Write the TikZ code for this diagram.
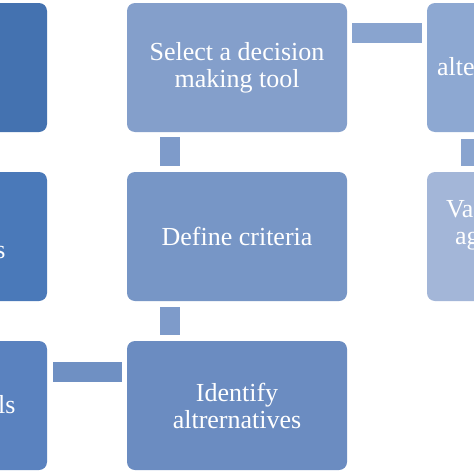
\documentclass[tikz,border=0pt]{standalone}
\usepackage{fontspec}
\setmainfont{Liberation Serif}
\definecolor{cLa}{HTML}{4472B0}
\definecolor{cLb}{HTML}{4A79B9}
\definecolor{cLc}{HTML}{5A82BF}
\definecolor{cMa}{HTML}{849FCB}
\definecolor{cMb}{HTML}{7796C6}
\definecolor{cMc}{HTML}{6B8CC1}
\definecolor{cRa}{HTML}{8DA8D2}
\definecolor{cRb}{HTML}{A3B6D8}
\definecolor{cCa}{HTML}{89A4CF}
\definecolor{cCb}{HTML}{7E9BCA}
\definecolor{cCc}{HTML}{6F90C3}
\begin{document}
\begin{tikzpicture}[x=1pt,y=-1pt,
  box/.style={rounded corners=8pt, minimum width=220pt, minimum height=129pt,
    inner sep=0pt, outer sep=0pt, text=white, align=center,
    font=\fontsize{26}{27}\selectfont},
  lbl/.style={inner sep=0pt, outer sep=0pt, text=white, font=\fontsize{26}{27}\selectfont},
  conn/.style={line width=20pt}]
\useasboundingbox (0,0) rectangle (474,474);
\fill[white] (0,0) rectangle (474,474);
\clip (0,0) rectangle (474,474);
% left column (cut off)
\node[box, fill=cLa] (L1) at (-63,67.5) {};
\node[box, fill=cLb] (L2) at (-63,236.5) {};
\node[box, fill=cLc] (L3) at (-63,405.5) {};
% middle column
\node[box, fill=cMa] (M1) at (237,67.5) {Select a decision\\making tool};
\node[box, fill=cMb] (M2) at (237,236.5) {Define criteria};
\node[box, fill=cMc] (M3) at (237,405.5) {Identify\\altrernatives};
% right column (cut off)
\node[box, fill=cRa] (R1) at (537,67.5) {};
\node[box, fill=cRb] (R2) at (537,236.5) {};
% partial labels
\node[lbl, anchor=base east] (tL2) at (5.5,258) {s};
\node[lbl, anchor=base east] (tL3) at (15.5,413) {ls};
\node[lbl, anchor=base west] (tR1) at (437,75) {alte};
\node[lbl, anchor=base west] (tR2a) at (446,217) {Va};
\node[lbl, anchor=base west] (tR2b) at (455,244) {ag};
% connectors
\draw[conn, cCa] ([shift={(5,-34.5)}]M1.east) -- ([shift={(-5,-34.5)}]R1.west);
\draw[conn, cCb] ([shift={(-67,5)}]M1.south) -- ([shift={(-67,-6)}]M2.north);
\draw[conn, cCb] ([shift={(-67,6)}]M2.south) -- ([shift={(-67,-6)}]M3.north);
\draw[conn, cCa] ([shift={(-66,7)}]R1.south) -- ([shift={(-66,-6)}]R2.north);
\draw[conn, cCc] ([shift={(6,-34)}]L3.east) -- ([shift={(-5,-34)}]M3.west);
\end{tikzpicture}
\end{document}
